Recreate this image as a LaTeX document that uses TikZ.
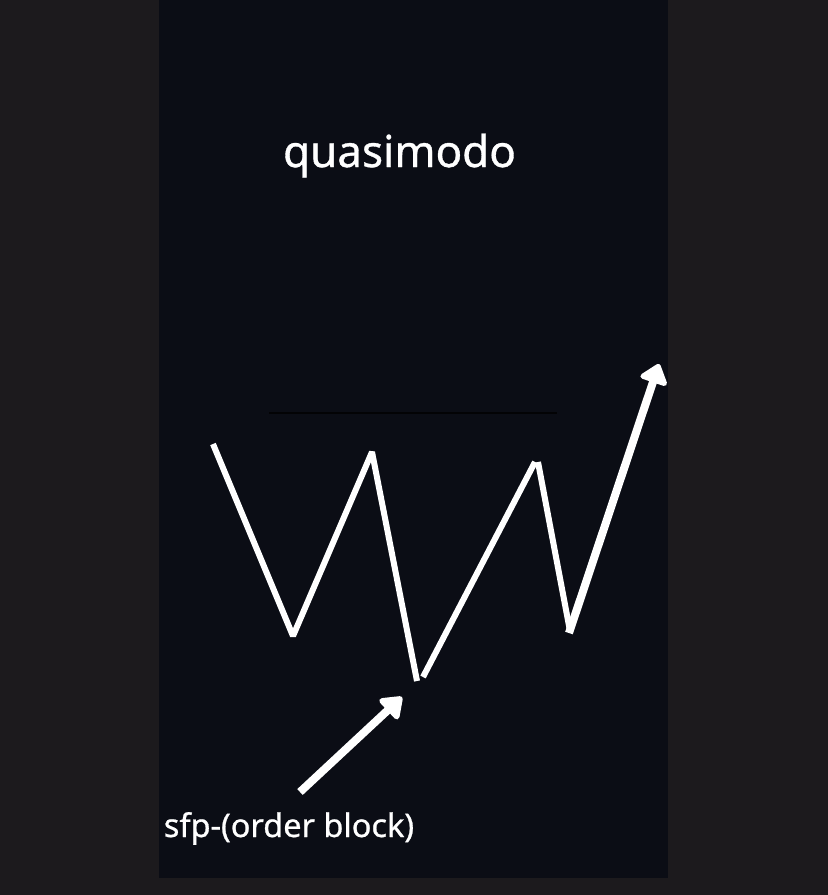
\documentclass[tikz,border=0pt]{standalone}
\usepackage{fontspec}
\setmainfont{Noto Sans}
\newfontfamily\heavyfont[FakeBold=0.8]{Noto Sans}
\usetikzlibrary{arrows.meta}
\definecolor{outerbg}{HTML}{1C1A1D}
\definecolor{panelbg}{HTML}{0B0D15}
\definecolor{faint}{HTML}{030305}
\tikzset{
  zig/.style={draw=white,line width=6pt,line cap=butt,line join=bevel},
  bigarrow/.style={draw=white,line width=8pt,line cap=butt,
    -{Triangle[width=32pt,length=21pt,round]}},
  lbl/.style={text=white,inner sep=0pt,anchor=base}
}
\begin{document}
\begin{tikzpicture}[x=1pt,y=-1pt]
\useasboundingbox (0,0) rectangle (828,895);
\fill[outerbg] (0,0) rectangle (828,895);
\fill[panelbg] (159,0) rectangle (668,878);
\node[lbl,font=\heavyfont\fontsize{44}{50}\selectfont] (title) at (399.5,167) {quasimodo};
\coordinate (f1) at (269,413);
\coordinate (f2) at (557,413);
\draw[faint,line width=1.5pt] (f1) -- (f2);
\coordinate (p0) at (213,444);
\coordinate (p1) at (293,636);
\coordinate (p2) at (372,452);
\coordinate (p3) at (417,681);
\coordinate (p4) at (423,677);
\coordinate (p5) at (535,462);
\coordinate (p6) at (538,462);
\coordinate (p7) at (570,631);
\coordinate (p8) at (569,633);
\coordinate (tip) at (659,364);
\draw[zig] (p0) -- (p1) -- (p2) -- (p3);
\draw[zig] (p4) -- (p5);
\draw[zig] (p6) -- (p7);
\draw[bigarrow] (p8) -- (tip);
\coordinate (s0) at (300,792);
\coordinate (s1) at (402,697);
\draw[bigarrow,-{Triangle[width=31pt,length=22pt,round]}] (s0) -- (s1);
\node[lbl,font=\heavyfont\fontsize{32.5}{38}\selectfont] (label) at (289,837) {sfp-(order block)};
\end{tikzpicture}
\end{document}
